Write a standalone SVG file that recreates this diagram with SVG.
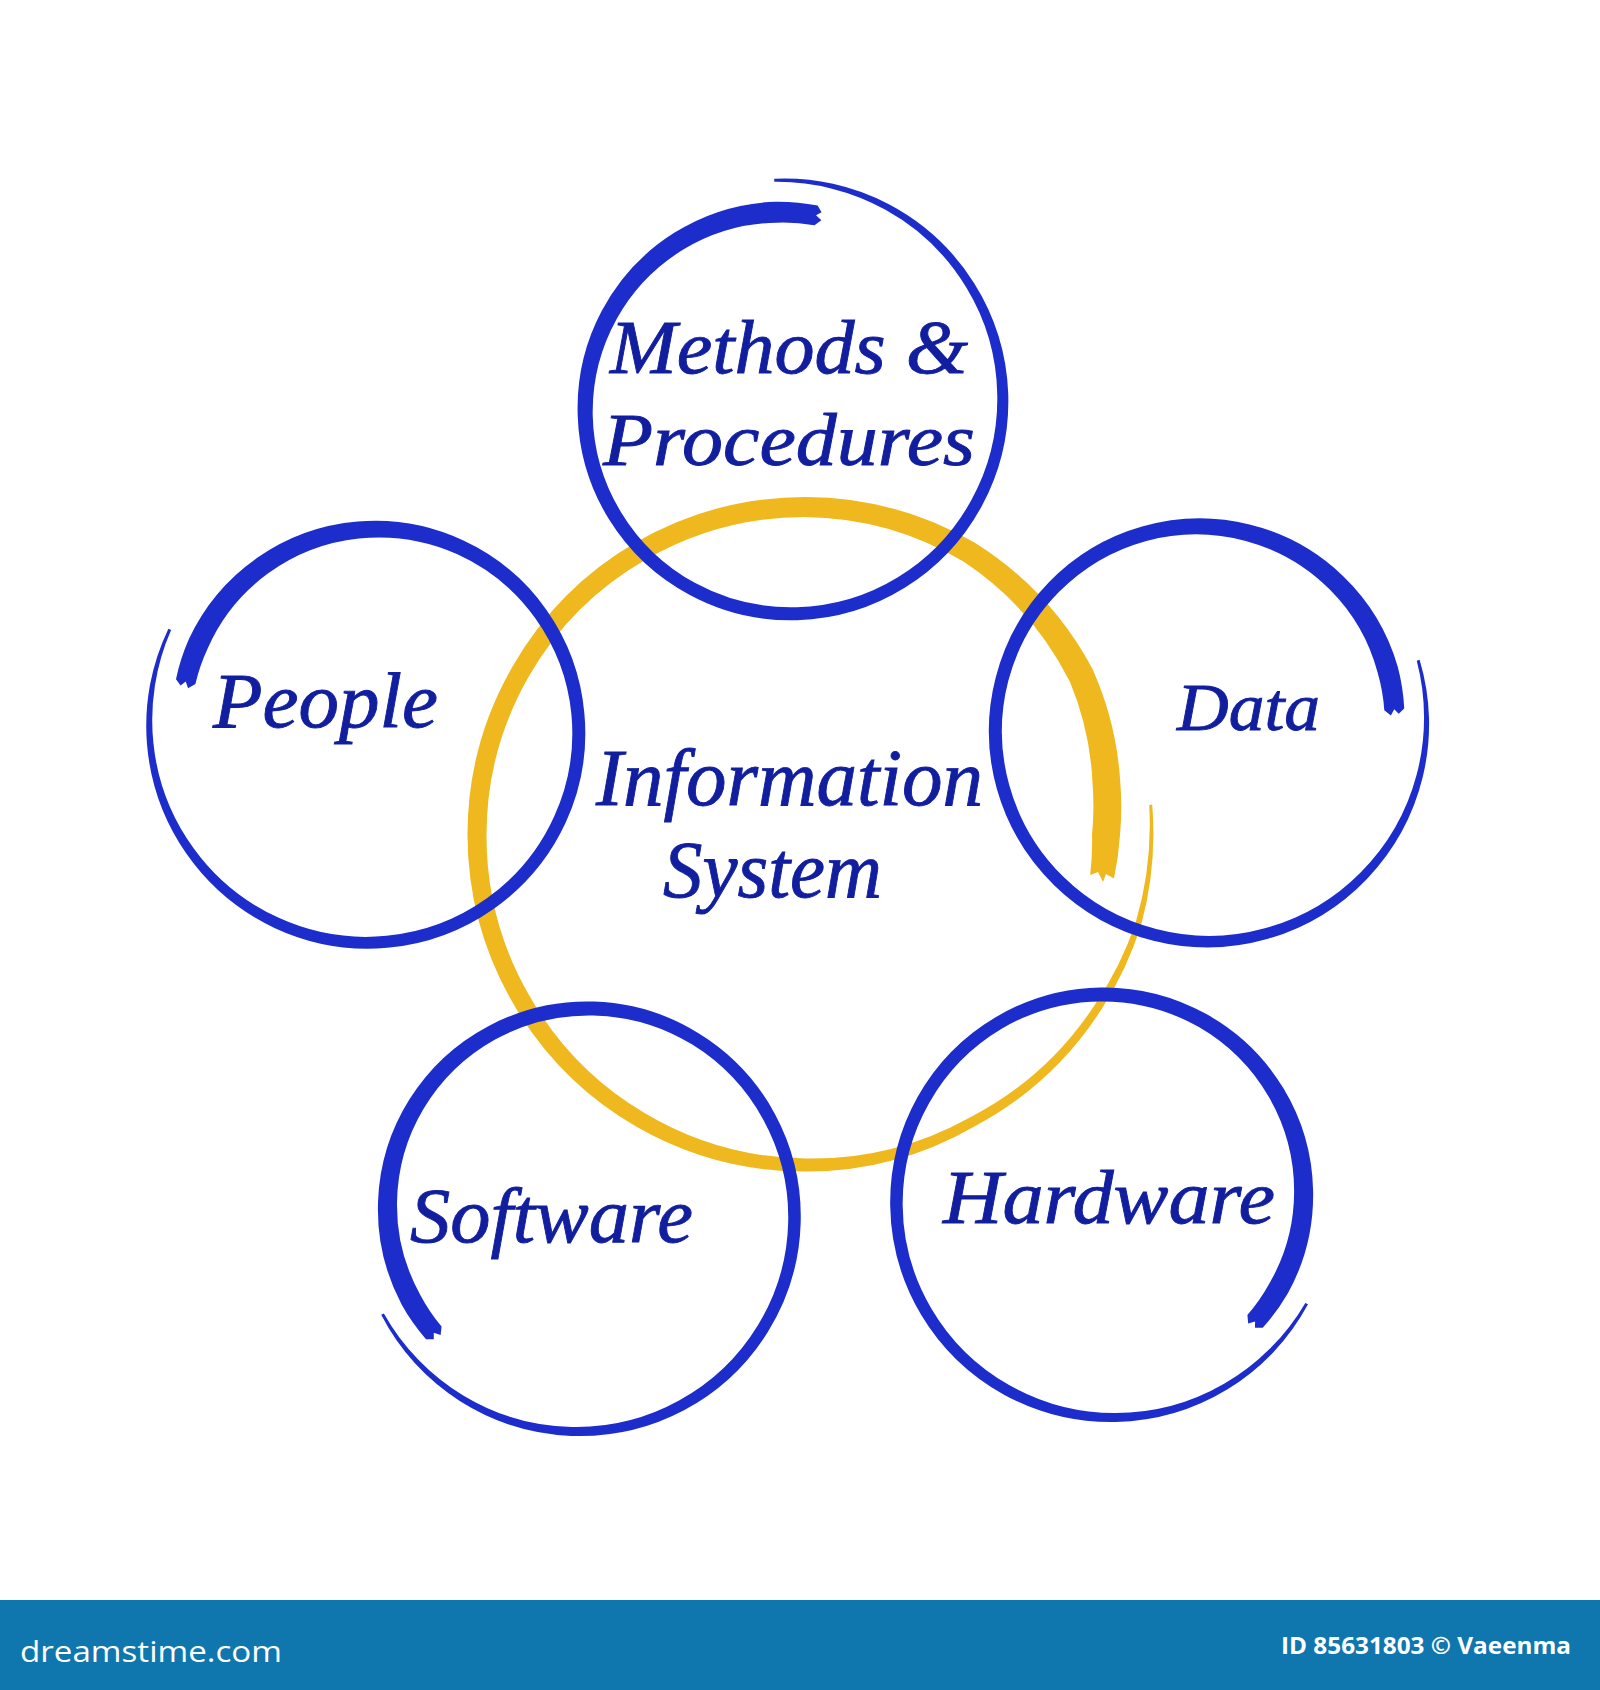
<svg xmlns="http://www.w3.org/2000/svg" xmlns:xlink="http://www.w3.org/1999/xlink" width="1600" height="1690" viewBox="0 0 1600 1690">
<style>
.ring{fill:#1C2DCB}
.lbl{font-family:"Liberation Serif","Times New Roman",serif;font-style:italic;fill:#111E9E;stroke:#111E9E;stroke-width:0.9}
.foot{fill:#FFFFFF;font-family:"Open Sans","Liberation Sans",sans-serif}
</style>
<defs>
<path id="ring" d="M 226.5 0 A 226 226 0 0 1 218.46 58.54 A 226 226 0 0 1 195.37 112.8 A 225 225 0 0 1 112.09 194.15 A 223 223 0 0 1 0 222.52 A 221 221 0 0 1 -110.18 190.84 A 219 219 0 0 1 -188.75 108.98 A 217 217 0 0 1 -215.54 0 A 214 214 0 0 1 -184.36 -106.44 A 212 212 0 0 1 -105.36 -182.49 A 210 210 0 0 1 0 -208.56 A 208 208 0 0 1 103.45 -179.18 A 206 206 0 0 1 177.74 -102.62 A 204 204 0 0 1 203.58 0 A 203 203 0 0 1 197.59 42.0 L 190.7 45.6 L 187.8 39.9 L 182.7 45.0 L 178.02 37.84 A 182 182 0 0 0 182.58 0 A 184 184 0 0 0 161.29 -93.12 A 188 188 0 0 0 94.95 -164.46 A 192 192 0 0 0 0 -193.56 A 195 195 0 0 0 -98.36 -170.37 A 198 198 0 0 0 -173.1 -99.94 A 201 201 0 0 0 -202.54 0 A 204 204 0 0 0 -177.93 102.73 A 207 207 0 0 0 -104.18 180.45 A 210 210 0 0 0 0 211.52 A 213 213 0 0 0 107.59 186.35 A 217 217 0 0 0 189.74 109.55 A 220 220 0 0 0 213.64 57.24 A 222 222 0 0 0 223.5 0 Z"/>
</defs>
<rect x="0" y="0" width="1600" height="1690" fill="#FFFFFF"/>

<g id="information-system">
<path fill="#EEB81E" d="M 1152.2 804.6 A 348 348 0 0 1 1141.1 925.1 A 346 346 0 0 1 1102.9 1007 A 340 340 0 0 1 973.5 1126.9 A 336 336 0 0 1 805 1171.5 A 337 337 0 0 1 636.5 1126.8 A 337 337 0 0 1 513.2 1003.5 A 337 337 0 0 1 467.5 835 A 337 337 0 0 1 512.7 666.25 A 338 338 0 0 1 636 542.3 A 338 338 0 0 1 805 497 A 338 338 0 0 1 974 542.3 A 335 335 0 0 1 1092.5 669 A 326 326 0 0 1 1120.1 779.4 A 318 318 0 0 1 1120 835 A 314 314 0 0 1 1114.0 878.4 L 1106 874 L 1103 882 L 1098 872 L 1090.2 875.1 A 288 288 0 0 0 1092 835 A 290 290 0 0 0 1092.6 784.3 A 298 298 0 0 0 1070.0 682 A 311 311 0 0 0 963 561.3 A 317 317 0 0 0 805 517 A 318 318 0 0 0 646 559.6 A 318 318 0 0 0 529.2 675.75 A 318.5 318.5 0 0 0 486.5 835 A 319 319 0 0 0 528.7 994.5 A 320 320 0 0 0 644.5 1113.0 A 322 322 0 0 0 805 1158.5 A 325 325 0 0 0 968.5 1118.2 A 332 332 0 0 0 1096.0 1003 A 339 339 0 0 0 1135.4 923.5 A 344 344 0 0 0 1149.2 804.9 Z"/>
<text class="lbl" x="596" y="805" font-size="80" textLength="387" lengthAdjust="spacingAndGlyphs">Information</text>
<text class="lbl" x="663" y="897" font-size="80" textLength="219" lengthAdjust="spacingAndGlyphs">System</text>
</g>

<g id="methods-procedures">
<use xlink:href="#ring" href="#ring" class="ring" transform="translate(786 405) rotate(267)"/>
<text class="lbl" x="610" y="373" font-size="77" textLength="358" lengthAdjust="spacingAndGlyphs">Methods &amp;</text>
<text class="lbl" x="603" y="465" font-size="73" textLength="372" lengthAdjust="spacingAndGlyphs">Procedures</text>
</g>

<g id="people">
<use xlink:href="#ring" href="#ring" class="ring" transform="translate(372 728) rotate(206) scale(1 -1)"/>
<text class="lbl" x="213" y="727" font-size="79" textLength="225" lengthAdjust="spacingAndGlyphs">People</text>
</g>

<g id="data">
<use xlink:href="#ring" href="#ring" class="ring" transform="translate(1203 726) rotate(-17)"/>
<text class="lbl" x="1177" y="730" font-size="68" textLength="143" lengthAdjust="spacingAndGlyphs">Data</text>
</g>

<g id="software">
<use xlink:href="#ring" href="#ring" class="ring" transform="translate(583 1212) rotate(153) scale(1 -1)"/>
<text class="lbl" x="410" y="1242" font-size="79" textLength="283" lengthAdjust="spacingAndGlyphs">Software</text>
</g>

<g id="hardware">
<use xlink:href="#ring" href="#ring" class="ring" transform="translate(1108 1198) rotate(28)"/>
<text class="lbl" x="943" y="1223" font-size="77" textLength="332" lengthAdjust="spacingAndGlyphs">Hardware</text>
</g>

<g id="connectors"></g>

<g id="footer">
<rect x="0" y="1600" width="1600" height="90" fill="#1076AE"/>
<text class="foot" x="20" y="1662" font-size="30" textLength="262" lengthAdjust="spacingAndGlyphs">dreamstime.com</text>
<text class="foot" x="1281" y="1654" font-size="24" font-weight="bold" font-family="Roboto, 'Liberation Sans', sans-serif" textLength="290" lengthAdjust="spacingAndGlyphs">ID 85631803 © Vaeenma</text>
</g>
</svg>
